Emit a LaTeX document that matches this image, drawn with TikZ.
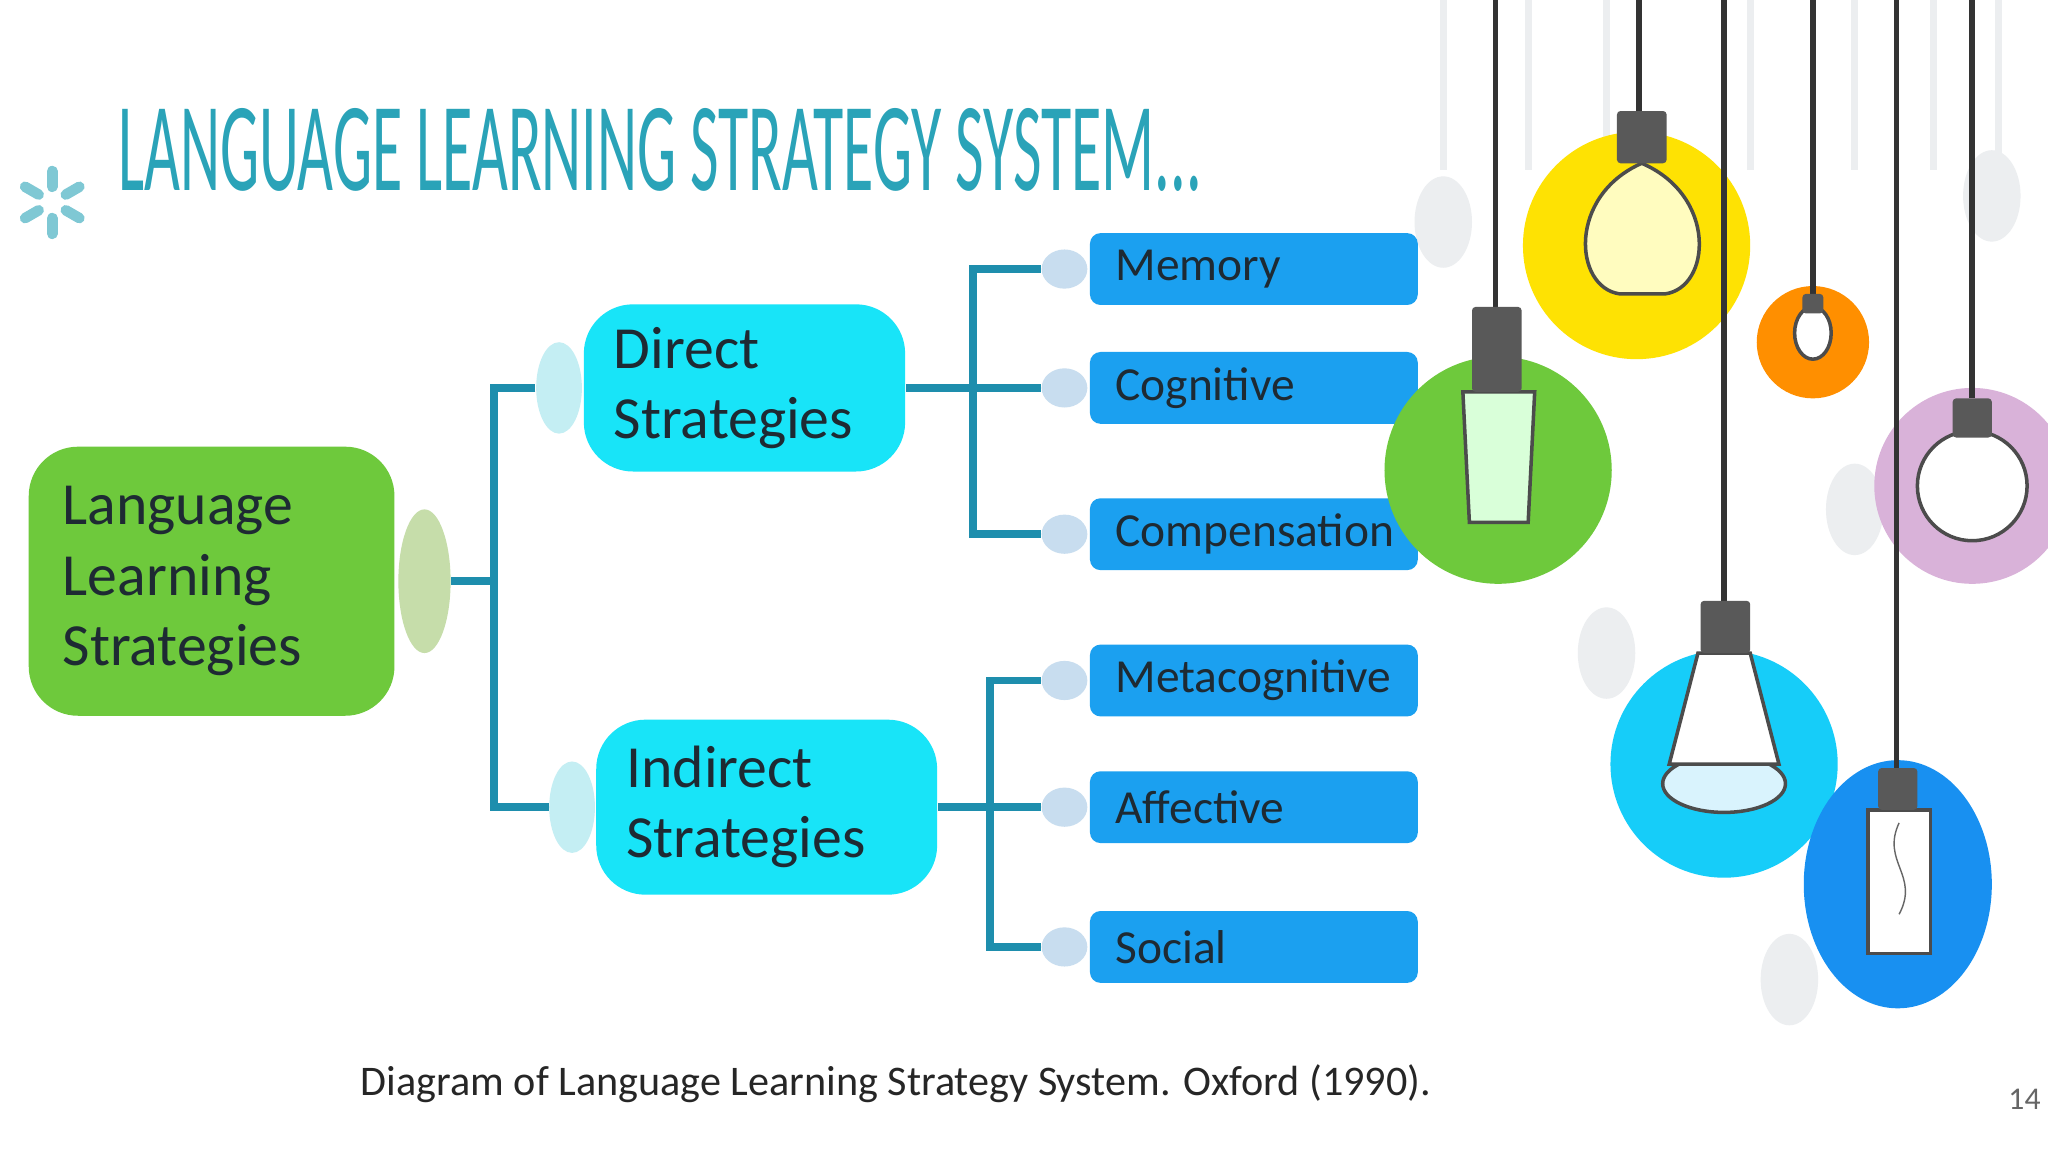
\documentclass[tikz,border=0pt]{standalone}
\usepackage{fontspec}
\setmainfont{Carlito}
\usetikzlibrary{shapes.geometric}
\definecolor{teal1}{HTML}{2AA3B8}
\definecolor{line1}{HTML}{1E8EAD}
\definecolor{grn}{HTML}{6EC93C}
\definecolor{grnL}{HTML}{C6DDAA}
\definecolor{cyn}{HTML}{18E4F8}
\definecolor{cynL}{HTML}{C4EEF3}
\definecolor{blu}{HTML}{1BA0F0}
\definecolor{bluL}{HTML}{C8DDEF}
\definecolor{txt}{HTML}{1E2A33}
\definecolor{ghost}{HTML}{ECEEF0}
\tikzset{
 big/.style={rounded corners=14pt,align=left,text=txt,font=\fontsize{17}{20}\selectfont,inner sep=0pt},
 leaf/.style={fill=blu,rounded corners=3pt,minimum width=251*0.01306cm,minimum height=55*0.01306cm,text=txt,font=\fontsize{13.5}{16}\selectfont,text width=212*0.01306cm,align=left},
 conn/.style={line1,line width=2.2pt},
 sdot/.style={ellipse,fill=bluL,minimum width=35*0.01306cm,minimum height=30*0.01306cm,inner sep=0pt},
 wire/.style={line width=1.6pt,black!80},
 bcap/.style={fill=black!65,rounded corners=1pt},
 glass/.style={fill=white,draw=black!70,line width=1pt}
}
\begin{document}
\begin{tikzpicture}[x=0.01306cm,y=-0.01306cm]
\useasboundingbox[fill=white] (0,0) rectangle (1568,882);
% ghost bulbs
\foreach \x/\y in {1105/170,1230/500,1420/390,1525/150,1370/750}
  \fill[ghost] (\x,\y) ellipse (22 and 35);
\foreach \x in {1105,1170,1230,1340,1420,1480,1530} \draw[ghost,line width=2pt] (\x,0) -- (\x,130);
% title
\node[text=teal1,font=\fontsize{36}{40}\selectfont,anchor=west,inner sep=0pt] (title) at (90,115) {\scalebox{0.49}[1]{LANGUAGE LEARNING STRATEGY SYSTEM...}};
\foreach \a in {0,60,...,300} \draw[teal1!60,line width=3pt,line cap=round] (40,155)++(\a+30:12) -- ++(\a+30:12);
% main boxes
\node[big,fill=grn,minimum width=280*0.01306cm,minimum height=206*0.01306cm,text width=228*0.01306cm] (lls) at (162,445) {Language\\Learning\\Strategies};
\node[ellipse,fill=grnL,minimum width=40*0.01306cm,minimum height=110*0.01306cm] (e0) at (325,445) {};
\node[big,fill=cyn,minimum width=246*0.01306cm,minimum height=128*0.01306cm,text width=200*0.01306cm] (dirS) at (570,297) {Direct\\Strategies};
\node[big,fill=cyn,minimum width=261*0.01306cm,minimum height=134*0.01306cm,text width=215*0.01306cm] (indS) at (587,618) {Indirect\\Strategies};
\node[ellipse,fill=cynL,minimum width=35*0.01306cm,minimum height=70*0.01306cm] (e1) at (428,297) {};
\node[ellipse,fill=cynL,minimum width=35*0.01306cm,minimum height=70*0.01306cm] (e2) at (438,618) {};
\coordinate (j0) at (378,445);
\draw[conn] (e0.east) -- (j0);
\draw[conn] (e1.west) -- (378,297) -- (378,618) -- (e2.west);
% leaves
\foreach \n/\t/\y in {m/Memory/206,c/Cognitive/297,p/Compensation/409,mc/Metacognitive/521,a/Affective/618,s/Social/725}{
  \node[leaf] (L\n) at (960,\y) {\t};
  \node[sdot] (D\n) at (815,\y) {};
}
\draw[conn] (dirS.east) -- (Dc.west);
\draw[conn] (Dm.west) -- (745,206) -- (745,409) -- (Dp.west);
\draw[conn] (indS.east) -- (Da.west);
\draw[conn] (Dmc.west) -- (758,521) -- (758,725) -- (Ds.west);
% bulbs: circles
\fill[yellow!85!orange] (1253,188) circle (87);
\fill[orange!90!red!80!yellow] (1388,262) circle (43);
\fill[violet!30] (1510,372) circle (75);
\fill[grn] (1147,360) circle (87);
\fill[cyn!90!blue] (1320,585) circle (87);
\fill[blu!90!blue] (1453,677) ellipse (72 and 95);
% wires
\draw[wire] (1145,0) -- (1145,235);
\draw[wire] (1255,0) -- (1255,85);
\draw[wire] (1320,0) -- (1320,460);
\draw[wire] (1388,0) -- (1388,225);
\draw[wire] (1452,0) -- (1452,588);
\draw[wire] (1510,0) -- (1510,305);
% bulb shapes
\draw[glass,fill=yellow!25] (1257,125) .. controls (1200,150) and (1205,220) .. (1240,225) -- (1275,225) .. controls (1310,220) and (1315,150) .. (1257,125);
\fill[bcap] (1238,85) rectangle (1276,125);
\draw[glass,fill=green!15] (1120,300) -- (1175,300) -- (1170,400) -- (1125,400) -- cycle;
\fill[bcap] (1127,235) rectangle (1165,300);
\draw[glass] (1388,255) ellipse (14 and 20); \fill[bcap] (1380,225) rectangle (1396,240);
\draw[glass] (1510,372) circle (42); \fill[bcap] (1495,305) rectangle (1525,335);
\draw[glass,fill=cyan!15] (1320,600) ellipse (47 and 22); \draw[glass] (1278,585) -- (1300,500) -- (1340,500) -- (1362,585) -- cycle;
\fill[bcap] (1302,460) rectangle (1340,500);
\draw[glass] (1430,620) rectangle (1478,730); \fill[bcap] (1438,588) rectangle (1468,620);
\draw[black!60] (1454,630) .. controls (1440,660) and (1470,670) .. (1454,700);
% caption
\node[text=black!85,font=\fontsize{12}{14}\selectfont] (capt) at (686,830) {Diagram of Language Learning Strategy System. Oxford (1990).};
\node[text=black!60,font=\fontsize{9}{10}\selectfont] (pg) at (1550,842) {14};
\end{tikzpicture}
\end{document}
